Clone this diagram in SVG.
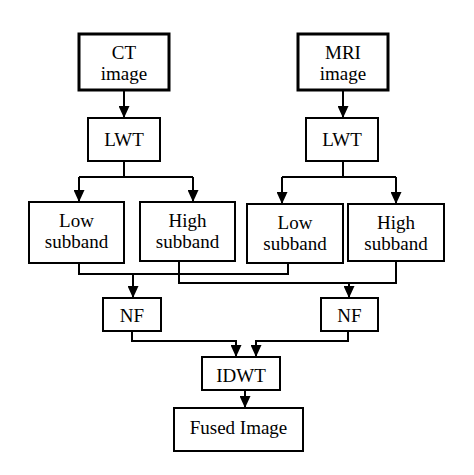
<svg xmlns="http://www.w3.org/2000/svg" width="474" height="475" viewBox="0 0 474 475">
<defs>
<marker id="ah" viewBox="0 0 12 11" refX="12" refY="5.5" markerWidth="12" markerHeight="11" markerUnits="userSpaceOnUse" orient="auto">
<path d="M0,0 L12,5.5 L0,11 z" fill="#000"/>
</marker>
<style>
.box{fill:#fff;stroke:#000;stroke-width:2}
.thick{stroke-width:3}
.t{font-family:"Liberation Serif","Times New Roman",serif;font-size:19px;fill:#000;text-anchor:middle}
.ln{fill:none;stroke:#000;stroke-width:2}
</style>
</defs>
<rect width="474" height="475" fill="#fff"/>
<g id="connectors">
<path class="ln" d="M124,90 V118" marker-end="url(#ah)"/>
<path class="ln" d="M343,90 V118" marker-end="url(#ah)"/>
<path class="ln" d="M124,161 V177 M79,177 H193"/>
<path class="ln" d="M79,177 V202" marker-end="url(#ah)"/>
<path class="ln" d="M193,177 V202" marker-end="url(#ah)"/>
<path class="ln" d="M343,161 V177 M282,177 H396"/>
<path class="ln" d="M282,177 V204" marker-end="url(#ah)"/>
<path class="ln" d="M396,177 V204" marker-end="url(#ah)"/>
<path class="ln" d="M79,263 V274 H288 V263"/>
<path class="ln" d="M179,261 V283 H396 V261"/>
<path class="ln" d="M133,274 V298" marker-end="url(#ah)"/>
<path class="ln" d="M349,283 V298" marker-end="url(#ah)"/>
<path class="ln" d="M132,331 V341 H236 V357" marker-end="url(#ah)"/>
<path class="ln" d="M348,331 V341 H256 V357" marker-end="url(#ah)"/>
<path class="ln" d="M245,390 V408" marker-end="url(#ah)"/>
</g>
<g id="ct">
<rect class="box thick" x="79" y="34" width="90" height="56"/>
<text class="t" x="124" y="59">CT</text>
<text class="t" x="124" y="80">image</text>
</g>
<g id="mri">
<rect class="box thick" x="298" y="34" width="90" height="56"/>
<text class="t" x="343" y="59">MRI</text>
<text class="t" x="343" y="80">image</text>
</g>
<g id="lwt1">
<rect class="box" x="88" y="118" width="72" height="43"/>
<text class="t" x="124" y="146">LWT</text>
</g>
<g id="lwt2">
<rect class="box" x="306" y="118" width="72" height="43"/>
<text class="t" x="342" y="146">LWT</text>
</g>
<g id="low1">
<rect class="box" x="29" y="202" width="95" height="61"/>
<text class="t" x="76.5" y="227">Low</text>
<text class="t" x="76.5" y="248">subband</text>
</g>
<g id="high1">
<rect class="box" x="140" y="202" width="95" height="59"/>
<text class="t" x="187.5" y="227">High</text>
<text class="t" x="187.5" y="248">subband</text>
</g>
<g id="low2">
<rect class="box" x="247" y="204" width="96" height="59"/>
<text class="t" x="295" y="229">Low</text>
<text class="t" x="295" y="250">subband</text>
</g>
<g id="high2">
<rect class="box" x="348" y="204" width="96" height="57"/>
<text class="t" x="396" y="229">High</text>
<text class="t" x="396" y="250">subband</text>
</g>
<g id="nf1">
<rect class="box" x="103" y="298" width="58" height="33"/>
<text class="t" x="132" y="322">NF</text>
</g>
<g id="nf2">
<rect class="box" x="321" y="298" width="57" height="33"/>
<text class="t" x="349.5" y="322">NF</text>
</g>
<g id="idwt">
<rect class="box" x="202" y="357" width="78" height="33"/>
<text class="t" x="241" y="382">IDWT</text>
</g>
<g id="fused">
<rect class="box" x="174" y="408" width="129" height="43"/>
<text class="t" x="238.5" y="434">Fused Image</text>
</g>
</svg>
